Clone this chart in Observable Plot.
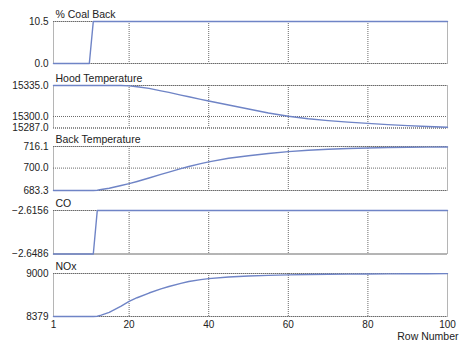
<!DOCTYPE html>
<html>
<head>
<meta charset="utf-8">
<script src="https://cdn.jsdelivr.net/npm/d3@7"></script>
<script src="https://cdn.jsdelivr.net/npm/@observablehq/plot@0.6"></script>
<style>
  html, body { margin: 0; padding: 0; background: #fff; }
  #chart { position: relative; width: 474px; height: 353px; overflow: hidden; }
  #chart svg { position: absolute; left: 0; overflow: visible; }
</style>
</head>
<body>
<div id="chart"></div>
<script>
// Key rows
const rows = [1, 5, 10, 11, 12, 13, 15, 18, 20, 22, 25, 28, 30, 33, 35, 38, 40, 45, 50, 55, 60, 65, 70, 75, 80, 85, 90, 95, 100];

const coalBack = [0, 0, 0, 10.5, 10.5, 10.5, 10.5, 10.5, 10.5, 10.5, 10.5, 10.5, 10.5, 10.5, 10.5, 10.5, 10.5, 10.5, 10.5, 10.5, 10.5, 10.5, 10.5, 10.5, 10.5, 10.5, 10.5, 10.5, 10.5];
const hoodTemp = [15335, 15335, 15335, 15335, 15335, 15335, 15335, 15335, 15334.6, 15333.6, 15331.8, 15329.0, 15327.2, 15324.2, 15322.3, 15319.4, 15317.5, 15313.0, 15308.5, 15304.0, 15300.3, 15297.5, 15295.3, 15293.6, 15292.2, 15290.8, 15289.7, 15288.7, 15287.8];
const backTemp = [683.3, 683.3, 683.3, 683.3, 683.5, 684.0, 685.0, 687.0, 688.4, 690.0, 692.6, 695.3, 697.0, 699.6, 701.2, 703.3, 704.6, 707.3, 709.2, 710.9, 712.3, 713.3, 714.0, 714.6, 715.0, 715.3, 715.5, 715.6, 715.7];
const co = [-2.6486, -2.6486, -2.6486, -2.6486, -2.6156, -2.6156, -2.6156, -2.6156, -2.6156, -2.6156, -2.6156, -2.6156, -2.6156, -2.6156, -2.6156, -2.6156, -2.6156, -2.6156, -2.6156, -2.6156, -2.6156, -2.6156, -2.6156, -2.6156, -2.6156, -2.6156, -2.6156, -2.6156, -2.6156];
const nox = [8379, 8379, 8379, 8379, 8383, 8398, 8438, 8528, 8596, 8650, 8718, 8778, 8812, 8858, 8884, 8911, 8926, 8949, 8963, 8973, 8980, 8985, 8989, 8991, 8993, 8995, 8996, 8997, 8998];

const titles = ["% Coal Back", "Hood Temperature", "Back Temperature", "CO", "NOx"];
const seriesValues = [coalBack, hoodTemp, backTemp, co, nox];
const yDomains = [[0, 10.5], [15287, 15335], [683.3, 716.1], [-2.6486, -2.6156], [8379, 9000]];
const yTicks = [[0, 10.5], [15287, 15300, 15335], [683.3, 700, 716.1], [-2.6486, -2.6156], [8379, 9000]];
const yFormats = [".1f", ".1f", ".1f", ".4f", "d"];
const xTicks = [1, 20, 40, 60, 80, 100];
const xGrid = [20, 40, 60, 80];
const xLabel = "Row Number";

// layout
const frameTops = [20.5, 84.5, 146, 209.5, 273];
const frameHeights = [42, 42.5, 44, 43.5, 43];
const FONT = "'Liberation Sans', Arial, sans-serif";
const LINE = "#6F84C6";
const GRID = "#6a6a6a";

const chart = document.getElementById("chart");

seriesValues.forEach((vals, i) => {
  const data = rows.map((r, j) => ({row: r, v: vals[j]}));
  const last = i === seriesValues.length - 1;
  const mt = 20, mb = last ? 37 : 2;
  const marks = [
    Plot.gridX(xGrid, {stroke: GRID, strokeOpacity: 1, strokeDasharray: "1,1"}),
    Plot.gridY(yTicks[i], {stroke: GRID, strokeOpacity: 1, strokeDasharray: "1,1"}),
    Plot.frame({stroke: GRID, strokeDasharray: "1,1"}),
    Plot.axisY(yTicks[i], {tickSize: 0, tickPadding: 5, tickFormat: d3.format(yFormats[i]), fontSize: 10, fill: "#222", label: null}),
    Plot.line(data, {x: "row", y: "v", stroke: LINE, strokeWidth: 1.4}),
    Plot.text([titles[i]], {text: d => d, frameAnchor: "top-left", lineAnchor: "middle", dx: 2, dy: -7, textAnchor: "start", fontSize: 10.5, fill: "#222"})
  ];
  if (last) {
    marks.push(Plot.axisX(xTicks, {tickSize: 0, tickPadding: 4, fontSize: 10, fill: "#222", label: null}));
    marks.push(Plot.text([xLabel], {text: d => d, frameAnchor: "bottom-right", lineAnchor: "middle", dx: 11, dy: 20, textAnchor: "end", fontSize: 10.5, fill: "#222"}));
  }
  const svg = Plot.plot({
    width: 474,
    height: mt + frameHeights[i] + mb,
    marginTop: mt,
    marginBottom: mb,
    marginLeft: 53,
    marginRight: 27,
    style: {fontFamily: FONT, fontSize: "10px", color: "#222", background: "transparent", overflow: "visible"},
    x: {domain: [1, 100], axis: last ? undefined : null},
    y: {domain: yDomains[i]},
    marks
  });
  svg.style.top = (frameTops[i] - mt) + "px";
  chart.appendChild(svg);
});
</script>
</body>
</html>
